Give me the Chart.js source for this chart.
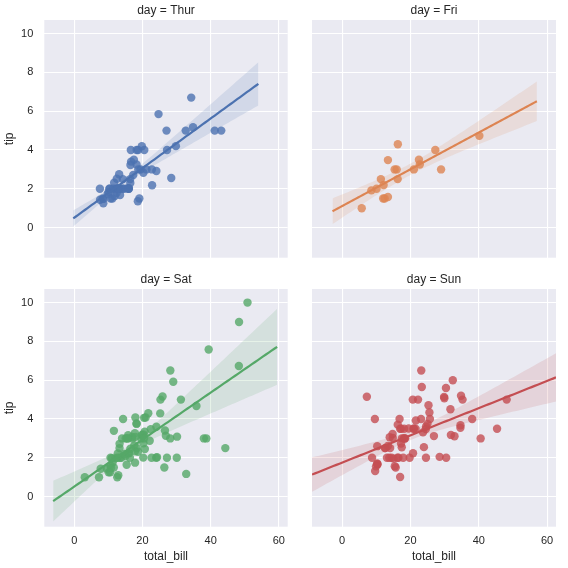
<!DOCTYPE html>
<html>
<head>
<meta charset="utf-8">
<script src="https://cdn.jsdelivr.net/npm/chart.js@4.4.1/dist/chart.umd.min.js"></script>
<style>
  html, body { margin: 0; padding: 0; background: #fff; }
  #wrap { position: relative; width: 568px; height: 568px; }
  #wrap canvas { position: absolute; left: 0; top: 0; }
</style>
</head>
<body>
<div id="wrap">
  <canvas id="c0" width="568" height="568"></canvas>
  <canvas id="c1" width="568" height="568"></canvas>
  <canvas id="c2" width="568" height="568"></canvas>
  <canvas id="c3" width="568" height="568"></canvas>
</div>
<script>
// tips data, one pair of arrays per day
const thurBill = [27.20, 22.76, 17.29, 19.44, 16.66, 10.07, 32.68, 15.98, 34.83, 13.03, 18.28, 24.71, 21.16,
  10.65, 12.43, 24.08, 11.69, 13.42, 14.26, 15.95, 12.48, 29.80, 8.52, 14.52, 11.38, 22.82, 19.08, 20.27,
  11.17, 12.26, 18.26, 8.51, 10.33, 14.15, 16.00, 13.16, 17.47, 34.30, 41.19, 27.05, 16.43, 8.35, 18.64,
  11.87, 9.78, 7.51, 19.81, 28.44, 15.48, 16.58, 7.56, 10.34, 43.11, 13.00, 13.51, 18.71, 12.74, 13.00,
  16.40, 20.53, 16.47, 18.78];
const thurTip = [4.00, 3.00, 2.71, 3.00, 3.40, 1.83, 5.00, 2.03, 5.17, 2.00, 4.00, 5.85, 3.00,
  1.50, 1.80, 2.92, 2.31, 1.68, 2.50, 2.00, 2.52, 4.20, 1.48, 2.00, 2.00, 2.18, 1.50, 2.83,
  1.50, 2.00, 3.25, 1.25, 2.00, 2.00, 2.00, 2.75, 3.50, 6.70, 5.00, 5.00, 2.30, 1.50, 1.36,
  1.63, 1.73, 2.00, 4.19, 2.56, 2.02, 4.00, 1.44, 2.00, 5.00, 2.00, 2.00, 4.00, 2.01, 2.00,
  2.50, 4.00, 3.23, 3.00];

const friBill = [28.97, 22.49, 5.75, 16.32, 22.75, 40.17, 27.28, 12.03, 21.01, 12.46, 11.35, 15.38,
  12.16, 13.42, 8.58, 15.98, 13.42, 16.27, 10.09];
const friTip = [3.00, 3.50, 1.00, 4.30, 3.25, 4.73, 4.00, 1.50, 3.00, 1.50, 2.50, 3.00,
  2.20, 3.48, 1.92, 3.00, 1.58, 2.50, 2.00];

const satBill = [20.65, 17.92, 20.29, 15.77, 39.42, 19.82, 17.81, 13.37, 12.69, 21.70, 19.65, 9.55, 18.35,
  15.06, 20.69, 17.78, 24.06, 16.31, 16.93, 18.69, 31.27, 16.04,
  38.01, 26.41, 11.24, 48.27, 20.29, 13.81, 11.02, 18.29, 17.59, 20.08, 16.45, 3.07, 20.23, 15.01,
  12.02, 17.07, 26.86, 25.28, 14.73, 10.51, 17.92,
  44.30, 22.42, 20.92, 15.36, 20.49, 25.21, 18.24, 14.31, 14.00, 7.25,
  10.59, 10.63, 50.81, 15.81,
  26.59, 38.73, 24.27, 12.76, 30.06, 25.89, 48.33, 13.27, 28.17, 12.90, 28.15, 11.59, 7.74, 30.14,
  20.45, 13.28, 22.12, 24.01, 15.69, 11.61, 10.77, 15.53, 10.07, 12.60, 32.83, 35.83, 29.03, 27.18,
  22.67, 17.82];
const satTip = [3.35, 4.08, 2.75, 2.23, 7.58, 3.18, 2.34, 2.00, 2.00, 4.30, 3.00, 1.45, 2.50,
  3.00, 2.45, 3.27, 3.60, 2.00, 3.07, 2.31, 5.00, 2.24,
  3.00, 1.50, 1.76, 6.73, 3.21, 2.00, 1.98, 3.76, 2.64, 3.15, 2.47, 1.00, 2.01, 2.09,
  1.97, 3.00, 3.14, 5.00, 2.20, 1.25, 3.08,
  2.50, 3.48, 4.08, 1.64, 4.06, 4.29, 3.76, 4.00, 3.00, 1.00,
  1.61, 2.00, 10.00, 3.16,
  3.41, 3.00, 2.03, 2.23, 2.00, 5.16, 9.00, 2.50, 6.50, 1.10, 3.00, 1.50, 1.44, 3.09,
  3.00, 2.72, 2.88, 2.00, 3.00, 3.39, 1.47, 3.00, 1.25, 1.00, 1.17, 4.67, 5.92, 2.00,
  2.00, 1.75];

const sunBill = [16.99, 10.34, 21.01, 23.68, 24.59, 25.29, 8.77, 26.88, 15.04, 14.78, 10.27, 35.26, 15.42,
  18.43, 14.83, 21.58, 10.33, 16.29, 16.97,
  17.46, 13.94, 9.68, 30.40, 18.29, 22.23, 32.40, 28.55, 18.04, 12.54, 10.29, 34.81, 9.94, 25.56, 19.49,
  38.07, 23.95, 25.71, 17.31, 29.93,
  14.07, 13.13, 17.26, 24.55, 19.77, 29.85, 48.17, 25.00, 13.39, 16.49, 21.50, 12.66, 16.21, 13.81,
  17.51, 24.52, 20.76, 31.71,
  7.25, 31.85, 16.82, 32.90, 17.89, 14.48, 9.60, 34.63, 34.65, 23.33, 45.35, 23.17, 40.55, 20.69,
  20.90, 30.46, 18.15, 23.10, 15.69];
const sunTip = [1.01, 1.66, 3.50, 3.31, 3.61, 4.71, 2.00, 3.12, 1.96, 3.23, 1.71, 5.00, 1.57,
  3.00, 3.02, 3.92, 1.67, 3.71, 3.50,
  2.54, 3.06, 1.32, 5.60, 3.00, 5.00, 6.00, 2.05, 3.00, 2.50, 2.60, 5.20, 1.56, 4.34, 3.51,
  4.00, 2.55, 4.00, 3.50, 5.07,
  2.50, 2.00, 2.74, 2.00, 2.00, 5.14, 5.00, 3.75, 2.61, 2.00, 3.50, 2.50, 2.00, 2.00,
  3.00, 3.48, 2.24, 4.50,
  5.15, 3.18, 4.00, 3.11, 2.00, 2.00, 4.00, 3.55, 3.68, 5.65, 3.50, 6.50, 3.00, 5.00,
  3.50, 2.00, 3.50, 4.00, 1.50];

const days = ['Thur', 'Fri', 'Sat', 'Sun'];
const bills = [thurBill, friBill, satBill, sunBill];
const tips = [thurTip, friTip, satTip, sunTip];
// x extent of each fitted line
const lineStart = [-0.3, -2.8, -6.2, -8.8];
const lineEnd = [54.0, 57.0, 59.5, 62.6];
const xTicks = [0, 20, 40, 60];
const yTicks = [0, 2, 4, 6, 8, 10];

const colors = ['76,114,176', '221,132,82', '85,168,104', '196,78,82'];
const textColor = '#262626';
const fontFamily = '"Liberation Sans", Arial, sans-serif';

// chart areas in page pixels
const panels = [
  { left: 44.3, top: 20, right: 287.7, bottom: 257.7, showY: true, showX: false },
  { left: 312, top: 20, right: 556, bottom: 257.7, showY: false, showX: false },
  { left: 44.3, top: 289, right: 287.7, bottom: 526.7, showY: true, showX: true },
  { left: 312, top: 289, right: 556, bottom: 526.7, showY: false, showX: true }
];

// OLS fit with a robust (row-resampling style) 95% band
function fitLine(xs, ys, x0, x1) {
  const n = xs.length;
  const mx = xs.reduce((s, v) => s + v, 0) / n;
  const my = ys.reduce((s, v) => s + v, 0) / n;
  let sxx = 0, sxy = 0;
  for (let i = 0; i < n; i++) {
    sxx += (xs[i] - mx) ** 2;
    sxy += (xs[i] - mx) * (ys[i] - my);
  }
  const b = sxy / sxx;
  const a = my - b * mx;
  let se2 = 0, sde2 = 0, sdde2 = 0;
  for (let i = 0; i < n; i++) {
    const e2 = (ys[i] - a - b * xs[i]) ** 2;
    const d = xs[i] - mx;
    se2 += e2; sde2 += d * e2; sdde2 += d * d * e2;
  }
  const k = n / (n - 2);
  const varC = k * se2 / (n * n);
  const varB = k * sdde2 / (sxx * sxx);
  const cov = k * sde2 / (n * sxx);
  const line = [], upper = [], lower = [];
  const steps = 80;
  for (let j = 0; j <= steps; j++) {
    const x = x0 + (x1 - x0) * j / steps;
    const d = x - mx;
    const yhat = a + b * x;
    const half = 1.96 * Math.sqrt(varC + 2 * d * cov + d * d * varB);
    line.push({ x, y: yhat });
    upper.push({ x, y: yhat + half });
    lower.push({ x, y: yhat - half });
  }
  return { line, upper, lower };
}

const panelBg = {
  id: 'panelBg',
  beforeDraw(chart) {
    const { ctx, chartArea: a } = chart;
    ctx.save();
    ctx.fillStyle = '#EAEAF2';
    ctx.fillRect(a.left, a.top, a.right - a.left, a.bottom - a.top);
    ctx.restore();
  }
};

const panelTitle = {
  id: 'panelTitle',
  afterDraw(chart, args, opts) {
    const { ctx, chartArea: a } = chart;
    ctx.save();
    ctx.font = '12px ' + fontFamily;
    ctx.fillStyle = textColor;
    ctx.textAlign = 'center';
    ctx.textBaseline = 'middle';
    ctx.fillText(opts.text, (a.left + a.right) / 2, a.top - 9);
    ctx.restore();
  }
};

days.forEach((day, i) => {
  const p = panels[i];
  const col = colors[i];
  const fit = fitLine(bills[i], tips[i], lineStart[i], lineEnd[i]);
  const points = bills[i].map((x, j) => ({ x, y: tips[i][j] }));

  new Chart(document.getElementById('c' + i), {
    type: 'scatter',
    data: {
      datasets: [
        { data: fit.line, showLine: true, borderColor: `rgb(${col})`, borderWidth: 2.2, pointRadius: 0, fill: false },
        { data: fit.upper, showLine: true, borderWidth: 0, borderColor: 'rgba(0,0,0,0)', pointRadius: 0,
          fill: '+1', backgroundColor: `rgba(${col},0.15)` },
        { data: fit.lower, showLine: true, borderWidth: 0, borderColor: 'rgba(0,0,0,0)', pointRadius: 0, fill: false },
        { data: points, pointRadius: 4.2, pointBorderWidth: 0, backgroundColor: `rgba(${col},0.8)` }
      ]
    },
    options: {
      responsive: false,
      animation: false,
      events: [],
      layout: {
        padding: {
          left: p.showY ? 0 : p.left,
          top: p.top,
          right: 568 - p.right,
          bottom: p.showX ? 0 : 568 - p.bottom
        }
      },
      plugins: {
        legend: { display: false },
        tooltip: { enabled: false },
        panelTitle: { text: 'day = ' + day }
      },
      scales: {
        x: {
          type: 'linear',
          min: -8.8,
          max: 62.6,
          afterBuildTicks: s => { s.ticks = xTicks.map(v => ({ value: v })); },
          afterFit: s => { s.height = p.showX ? 568 - p.bottom : 0; },
          grid: { color: '#fff', lineWidth: 1.1, drawTicks: false },
          border: { display: false },
          ticks: { display: p.showX, color: textColor, font: { family: fontFamily, size: 11 }, padding: 8 },
          title: { display: p.showX, text: 'total_bill', color: textColor,
                   font: { family: fontFamily, size: 12 }, padding: { top: 0, bottom: 3.8 } }
        },
        y: {
          type: 'linear',
          min: -1.55,
          max: 10.7,
          afterBuildTicks: s => { s.ticks = yTicks.map(v => ({ value: v })); },
          afterFit: s => { s.width = p.showY ? p.left : 0; },
          grid: { color: '#fff', lineWidth: 1.1, drawTicks: false },
          border: { display: false },
          ticks: { display: p.showY, color: textColor, font: { family: fontFamily, size: 11 }, padding: 11 },
          title: { display: p.showY, text: 'tip', color: textColor,
                   font: { family: fontFamily, size: 12 }, padding: { top: 2.8, bottom: 0 } }
        }
      }
    },
    plugins: [panelBg, panelTitle]
  });
});
</script>
</body>
</html>
